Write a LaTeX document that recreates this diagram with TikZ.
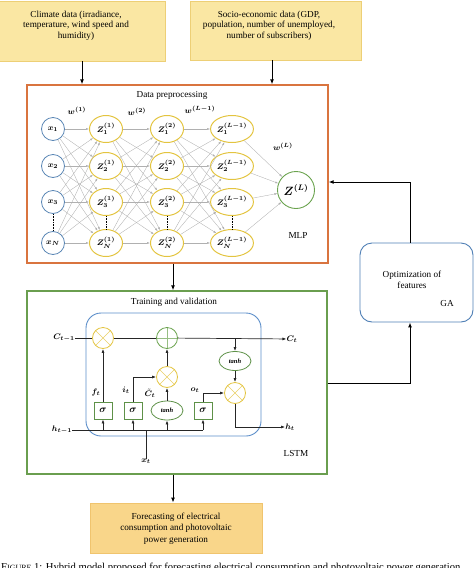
\documentclass[tikz,border=0pt]{standalone}
\usepackage{amsmath,bm}
\usepackage{fontspec}
\setmainfont{Liberation Serif}
\usetikzlibrary{arrows.meta,shapes.geometric,calc}
\definecolor{inblue}{HTML}{5B87B5}
\definecolor{zyel}{HTML}{E3C440}
\definecolor{zgreen}{HTML}{6BA34F}
\definecolor{lgreen}{HTML}{5E9148}
\definecolor{mlporange}{HTML}{D9743F}
\definecolor{lstmgreen}{HTML}{6A9E4F}
\definecolor{innerblue}{HTML}{5B8DC9}
\definecolor{gablue}{HTML}{4F7FB5}
\definecolor{topfill}{HTML}{FAE7A3}
\definecolor{topdraw}{HTML}{EDCF76}
\definecolor{forefill}{HTML}{F9D68A}
\definecolor{foredraw}{HTML}{F0C46E}
\definecolor{wgrey}{HTML}{B0B0B0}
\begin{document}
\begin{tikzpicture}[x=1pt,y=-1pt,
  every node/.style={font=\fontsize{9.2}{10.6}\selectfont, inner sep=0pt},
  topbox/.style={rectangle, fill=topfill, draw=topdraw, line width=0.8pt},
  forebox/.style={rectangle, fill=forefill, draw=foredraw, line width=0.8pt},
  inp/.style={circle, draw=inblue, line width=0.8pt, minimum size=23pt, font=\footnotesize},
  hid/.style={ellipse, draw=zyel, line width=1pt, minimum width=33pt, minimum height=27pt, font=\footnotesize},
  outn/.style={circle, draw=zgreen, line width=0.9pt, minimum size=37pt, font=\large},
  wire/.style={draw=wgrey, line width=0.35pt, -{Latex[length=3pt,width=2pt]}},
  wlab/.style={font=\footnotesize},
  bigarr/.style={draw=black, line width=1pt, -{Latex[length=5pt,width=4pt]}},
  mult/.style={circle, draw=zyel, line width=0.8pt, minimum size=21pt,
    path picture={\draw[zyel!80, line width=0.6pt] (path picture bounding box.north west) -- (path picture bounding box.south east) (path picture bounding box.south west) -- (path picture bounding box.north east);}},
  plusn/.style={circle, draw=zgreen, line width=0.8pt, minimum size=21pt,
    path picture={\draw[zgreen!70, line width=0.5pt] (path picture bounding box.north) -- (path picture bounding box.south) (path picture bounding box.west) -- (path picture bounding box.east);}},
  sig/.style={rectangle, draw=lgreen, line width=0.9pt, minimum width=18pt, minimum height=17pt, font=\normalsize},
  tanhn/.style={ellipse, draw=lgreen, line width=0.8pt, minimum width=32pt, minimum height=19pt, font=\fontsize{6.5}{7}\selectfont\bfseries\itshape},
  lline/.style={draw=black!85, line width=0.7pt},
  larr/.style={draw=black!85, line width=0.7pt, -{Latex[length=4pt,width=3pt]}},
  mlab/.style={font=\footnotesize}
]
\path[use as bounding box] (0,0) rectangle (474,568);
\clip (0,0) rectangle (474,568);

% top input boxes
\node[topbox, minimum width=172pt, minimum height=60pt] (climate) at (79,31) {};
\node[align=center] (climtxt) at (76,25.5) {Climate data (irradiance,\\temperature, wind speed and\\humidity)};
\node[topbox, minimum width=171pt, minimum height=59pt] (socio) at (275.5,30.5) {};
\node[align=center] (sociotxt) at (269,25.5) {Socio-economic data (GDP,\\population, number of unemployed,\\number of subscribers)};

% MLP box
\node[rectangle, draw=mlporange, line width=1.3pt, minimum width=301pt, minimum height=178pt] (mlp) at (177.5,174) {};
\node (dptxt) at (172,95) {Data preprocessing};
\node (mlptxt) at (298,235) {MLP};

% MLP nodes
\foreach \i/\yy/\s in {1/129/1,2/166/2,3/202/3,4/243/N} {
  \node[inp] (x\i) at (53,\yy) {$\bm{x_{\s}}$};
  \node[hid] (a\i) at (106,\yy) {$\bm{Z_{\s}^{(1)}}$};
  \node[hid] (b\i) at (167,\yy) {$\bm{Z_{\s}^{(2)}}$};
  \node[hid] (c\i) at (232,\yy) {$\bm{Z_{\s}^{(L-1)}}$};
}
\node[outn] (zl) at (296,190) {$\bm{Z^{(L)}}$};
\foreach \i in {1,...,4}{
  \foreach \j in {1,...,4}{
    \draw[wire] (x\i) -- (a\j);
    \draw[wire] (a\i) -- (b\j);
    \draw[wire] (b\i) -- (c\j);
  }
  \draw[wire] (c\i) -- (zl);
}
\foreach \n in {x,a,b,c} \draw[densely dotted, line width=0.6pt] (\n3) -- (\n4);
\node[wlab] (w1) at (77,111) {$\bm{w^{(1)}}$};
\node[wlab] (w2) at (137,112) {$\bm{w^{(2)}}$};
\node[wlab] (w3) at (200,110) {$\bm{w^{(L-1)}}$};
\node[wlab] (w4) at (283,147) {$\bm{w^{(L)}}$};

% LSTM box
\node[rectangle, draw=lstmgreen, line width=1.3pt, minimum width=300pt, minimum height=183pt] (lstm) at (177,382.5) {};
\node (tvtxt) at (174,302) {Training and validation};
\node (lstmtxt) at (296,453) {LSTM};
\node[rectangle, rounded corners=15pt, draw=innerblue, line width=0.9pt, minimum width=175pt, minimum height=123pt] (cell) at (173.5,374.5) {};

% LSTM cell
\node[mult] (m1) at (103,338) {};
\node[plusn] (pl) at (167,338) {};
\node[mult] (m2) at (167,377) {};
\node[mult] (m3) at (235,393) {};
\node[tanhn] (th2) at (235,361) {tanh};
\node[sig] (fs) at (103,410.5) {$\bm{\sigma}$};
\node[sig] (is) at (133,410.5) {$\bm{\sigma}$};
\node[tanhn] (th1) at (167,410.5) {tanh};
\node[sig] (os) at (203,410.5) {$\bm{\sigma}$};
\node[mlab] (cprev) at (64,338) {$\bm{C_{t-1}}$};
\node[mlab] (ct) at (292,339) {$\bm{C_t}$};
\node[mlab] (hprev) at (62,430) {$\bm{h_{t-1}}$};
\node[mlab] (ht) at (290,427) {$\bm{h_t}$};
\node[mlab] (xt) at (146,461) {$\bm{x_t}$};
\node[mlab] (ftl) at (96,392) {$\bm{f_t}$};
\node[mlab] (itl) at (126,390) {$\bm{i_t}$};
\node[mlab] (ctl) at (150,393) {$\bm{\tilde{C}_t}$};
\node[mlab] (otl) at (195,390) {$\bm{o_t}$};
\coordinate (hend) at (203,430);
\coordinate (xtop) at (146,430);
\coordinate (cdn) at (235,338);

\draw[lline] (cprev) -- (m1);
\draw[lline] (m1) -- (pl);
\draw[larr] (pl) -- (ct);
\draw[larr] (cdn) -- (th2);
\draw[larr] (th2) -- (m3);
\draw[larr] (m3) |- (ht);
\draw[larr] (os) |- (m3);
\draw[larr] (is) |- (m2);
\draw[larr] (fs) -- (m1);
\draw[larr] (th1) -- (m2);
\draw[larr] (m2) -- (pl);
\draw[lline] (hprev) -- (hend);
\draw[larr] (hend) -- (os);
\draw[larr] (fs |- hend) -- (fs);
\draw[larr] (is |- hend) -- (is);
\draw[larr] (th1 |- hend) -- (th1);
\draw[lline] (xt) -- (xtop);

% GA box
\node[rectangle, rounded corners=12pt, draw=gablue, line width=0.9pt, minimum width=113pt, minimum height=79pt] (ga) at (416.5,282.5) {};
\node[align=center] (gatxt) at (412,280) {Optimization of\\features};
\node (galab) at (447,303) {GA};

% forecast box
\node[forebox, minimum width=172pt, minimum height=50pt] (fore) at (176,528) {};
\node[align=center, font=\fontsize{9.2}{11.5}\selectfont] (foretxt) at (176,528.5) {Forecasting of electrical\\consumption and photovoltaic\\power generation};

% main arrows
\coordinate (cx) at (82,0);
\coordinate (sx) at (272,0);
\coordinate (mx) at (173,0);
\coordinate (gx) at (410,0);
\coordinate (gy1) at (0,383);
\coordinate (gy2) at (0,182);
\draw[bigarr] (cx |- climate.south) -- (cx |- mlp.north);
\draw[bigarr] (sx |- socio.south) -- (sx |- mlp.north);
\draw[bigarr] (mx |- mlp.south) -- (mx |- lstm.north);
\draw[bigarr] (mx |- lstm.south) -- (mx |- fore.north);
\draw[bigarr] (lstm.east |- gy1) -| (gx |- ga.south);
\draw[bigarr] (gx |- ga.north) |- (mlp.east |- gy2);

% caption
\node[anchor=base west, font=\fontsize{10.6}{12}\selectfont] (cap) at (1,570) {F{\fontsize{8}{9}\selectfont IGURE} 1: Hybrid model proposed for forecasting electrical consumption and photovoltaic power generation.};
\end{tikzpicture}
\end{document}
